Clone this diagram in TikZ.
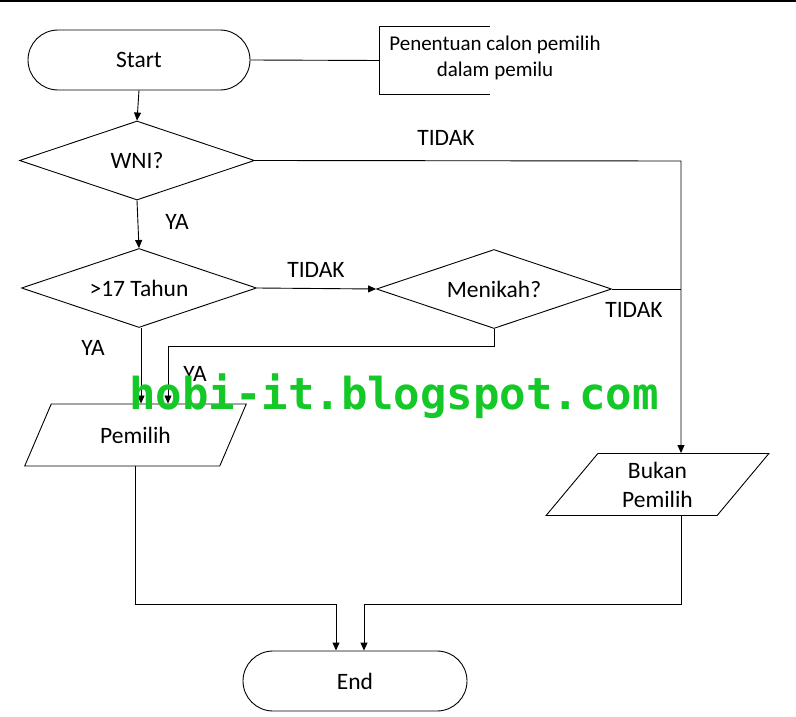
\documentclass[tikz,border=0pt]{standalone}
\usepackage{fontspec}
\setmainfont{Carlito}
\newfontfamily\wmfont{DejaVu Sans Mono}
\usetikzlibrary{shapes.geometric,arrows.meta,calc}
\definecolor{wmgreen}{RGB}{20,200,40}
\begin{document}
\begin{tikzpicture}[x=1pt,y=-1pt,
  every node/.style={font=\fontsize{23.5}{29}\selectfont},
  ln/.style={line width=0.9pt,black},
  arr/.style={ln,-{Triangle[length=8pt,width=7pt]}},
  term/.style={draw,line width=0.9pt,rounded corners=30pt,minimum width=222pt,minimum height=60pt,inner sep=0pt},
  dec/.style={draw,line width=0.9pt,diamond,aspect=3,inner sep=0pt,minimum width=235pt,minimum height=79pt},
  io/.style={draw,line width=0.9pt,trapezium,trapezium left angle=56,trapezium right angle=124,trapezium stretches,minimum width=223pt,minimum height=62pt,inner sep=0pt,align=center},
  lbl/.style={inner sep=0pt}]
\useasboundingbox (0,0) rectangle (796,717);
\draw[line width=1.3pt] (0,1) -- (796,1);

\node[term] (start) at (139,60) {Start};
\node[minimum width=110pt,minimum height=67pt,inner sep=0pt] (notebr) at (435,60.5) {};
\draw[ln] (notebr.north east) -- (notebr.north west) -- (notebr.south west) -- (notebr.south east);
\node[lbl,align=center,font=\fontsize{21}{26}\selectfont] (notetxt) at (495,58) {Penentuan calon pemilih\\dalam pemilu};
\draw[ln] (start.east) -- (notebr.west);

\node[dec] (wni) at (137,160.5) {WNI?};
\node[dec] (t17) at (139,288) {>17 Tahun};
\node[dec] (nikah) at (494,289) {Menikah?};
\node[io] (pemilih) at (135.5,435) {Pemilih};
\node[io] (bukan) at (657.5,484.5) {Bukan\\Pemilih};
\node[term,minimum width=224pt] (end) at (355,681) {End};

\coordinate (j1) at (681,161);
\coordinate (c2) at (168,346);
\coordinate (m1) at (336,604);
\coordinate (m2) at (364,604);

\draw[arr] (start.south) -- (wni.north);
\draw[arr] (wni.south) -- (t17.north);
\draw[arr] (t17.east) -- (nikah.west);
\draw[arr] (wni.east) -- (j1) -- (j1 |- bukan.north);
\draw[ln] (nikah.east) -- (nikah.east -| j1);
\draw[arr] (nikah.south) |- (c2) -- (c2 |- pemilih.north);
\draw[arr] ($(t17.south)+(2,0)$) -- ($(t17.south |- pemilih.north)+(2,0)$);
\draw[arr] (pemilih.south) |- (m1) -- (m1 |- end.north);
\draw[arr] (j1 |- bukan.south) |- (m2) -- (m2 |- end.north);

\node[lbl] (l1) at (446,138) {TIDAK};
\node[lbl] (l2) at (177,222) {YA};
\node[lbl] (l3) at (316,270) {TIDAK};
\node[lbl] (l4) at (634,310) {TIDAK};
\node[lbl] (l5) at (93,348) {YA};
\node[lbl] (l6) at (195,374) {YA};

\node[lbl,font=\wmfont\bfseries\fontsize{44}{44}\selectfont,text=wmgreen] (wm) at (394,396) {hobi-it.blogspot.com};
\end{tikzpicture}
\end{document}
